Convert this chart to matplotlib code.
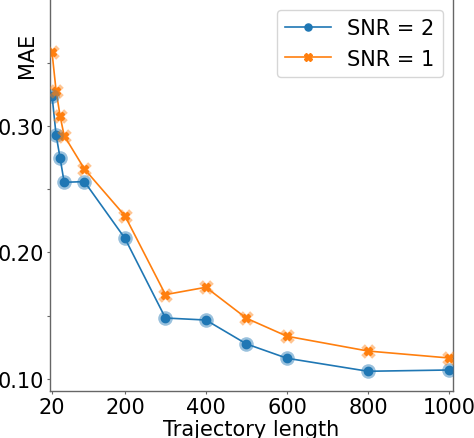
import matplotlib
matplotlib.use("Agg")
import matplotlib.pyplot as plt
from matplotlib.ticker import FixedLocator, FormatStrFormatter

traj_len = [20, 30, 40, 50, 100, 200, 300, 400, 500, 600, 800, 1000]
mae_snr2 = [0.324, 0.293, 0.2745, 0.2555, 0.256, 0.2112, 0.1482, 0.1466, 0.1277, 0.1164, 0.1061, 0.1071]
mae_snr1 = [0.3583, 0.3279, 0.3077, 0.2923, 0.266, 0.229, 0.1667, 0.1725, 0.148, 0.1338, 0.1221, 0.1166]
xticks = [20, 200, 400, 600, 800, 1000]
yticks_major = [0.10, 0.20, 0.30]
yticks_minor = [0.15, 0.25, 0.35]
labels = ["SNR = 2", "SNR = 1"]

W, H = 474, 439
fig = plt.figure(figsize=(W / 100, H / 100), dpi=100)
ymin, ymax = 0.0905, 0.41
ax_h = (ymax - ymin) * 1265 / H
ax = fig.add_axes([50 / W, 47 / H, 403 / W, ax_h])

c_blue = "#1f77b4"
c_orange = "#ff7f0e"

ax.plot(traj_len, mae_snr2, color=c_blue, lw=1.2, marker="o", ms=6, label=labels[0])
ax.scatter(traj_len, mae_snr2, color=c_blue, s=110, alpha=0.45, marker="o", lw=0, zorder=3)
ax.plot(traj_len, mae_snr1, color=c_orange, lw=1.2, marker="X", ms=6, label=labels[1])
ax.scatter(traj_len, mae_snr1, color=c_orange, s=110, alpha=0.45, marker="X", lw=0, zorder=3)

ax.set_xlim(15, 1010)
ax.set_ylim(ymin, ymax)
ax.set_xticks(xticks)
ax.yaxis.set_major_locator(FixedLocator(yticks_major))
ax.yaxis.set_minor_locator(FixedLocator(yticks_minor))
ax.yaxis.set_major_formatter(FormatStrFormatter("%.2f"))
ax.tick_params(axis="both", which="both", labelsize=15, length=2.5, width=0.8,
               color="#666666", pad=2)
ax.tick_params(axis="y", which="minor", labelleft=False)
for s in ax.spines.values():
    s.set_color("#666666")
    s.set_linewidth(1.0)

ax.set_xlabel("Trajectory length", fontsize=15, labelpad=1)
ax.set_ylabel("MAE", fontsize=15)
ax.yaxis.set_label_coords(-0.032, (392 - 55) / (ax_h * H))

ax.legend(loc="upper right", bbox_to_anchor=(443 / W, 1 - 11 / H),
          bbox_transform=fig.transFigure, borderaxespad=0, fontsize=15,
          handlelength=2.2, markerscale=0.85)

fig.savefig("out.png", dpi=100)
